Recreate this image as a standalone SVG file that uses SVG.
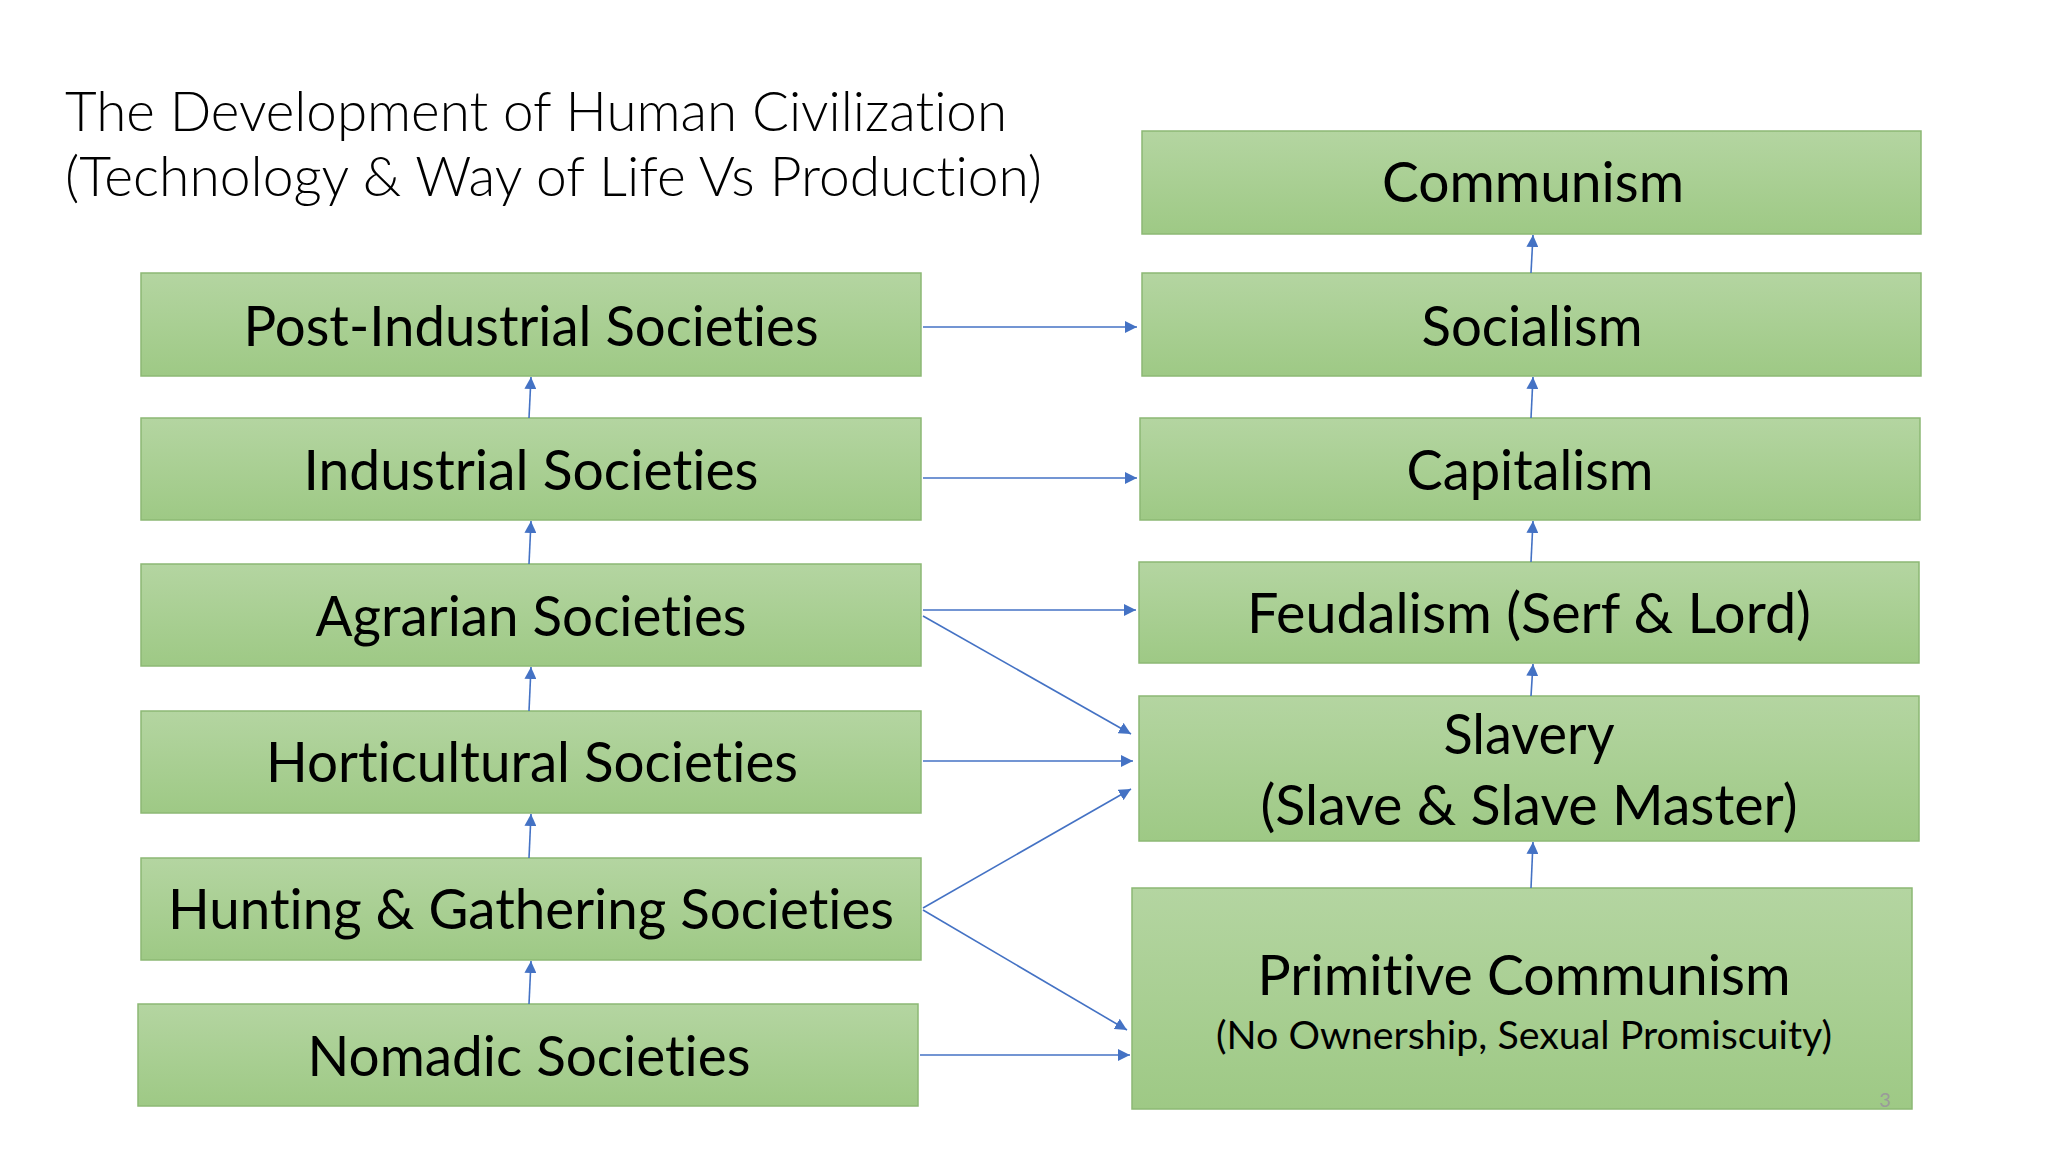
<svg xmlns="http://www.w3.org/2000/svg" width="2048" height="1152" viewBox="0 0 2048 1152">
  <defs>
    <linearGradient id="g" x1="0" y1="0" x2="0" y2="1">
      <stop offset="0" stop-color="#b4d5a1"/>
      <stop offset="1" stop-color="#9ec985"/>
    </linearGradient>
    <marker id="ah" markerUnits="userSpaceOnUse" markerWidth="14" markerHeight="12" refX="12" refY="6" orient="auto">
      <path d="M0,0 L12,6 L0,12 Z" fill="#4472c4"/>
    </marker>
  </defs>
  <style>
    text { font-variant-ligatures: none; font-feature-settings: "liga" 0, "clig" 0; }
    .box { fill: url(#g); stroke: #8cb874; stroke-width: 1.5; }
    .t { font-family: Lato, "Open Sans", "Liberation Sans", sans-serif; font-size: 56px; fill: #000; text-anchor: middle; }
    .s { font-family: Lato, "Open Sans", "Liberation Sans", sans-serif; font-size: 38px; fill: #000; text-anchor: middle; }
    .title { font-family: Lato, "Open Sans", "Liberation Sans", sans-serif; font-weight: 300; font-size: 56px; fill: #000; }
    .c { fill: none; stroke: #4472c4; stroke-width: 1.6; marker-end: url(#ah); }
  </style>
  <rect width="2048" height="1152" fill="#ffffff"/>

  <g id="title">
    <text class="title" x="65" y="131" textLength="942" lengthAdjust="spacingAndGlyphs">The Development of Human Civilization</text>
    <text class="title" x="65" y="196" textLength="977" lengthAdjust="spacingAndGlyphs">(Technology &amp; Way of Life Vs Production)</text>
  </g>

  <g id="post-industrial">
    <rect class="box" x="141" y="273" width="780" height="103"/>
    <text class="t" x="531" y="346" textLength="575" lengthAdjust="spacingAndGlyphs">Post-Industrial Societies</text>
  </g>
  <g id="industrial">
    <rect class="box" x="141" y="418" width="780" height="102"/>
    <text class="t" x="531" y="490" textLength="455" lengthAdjust="spacingAndGlyphs">Industrial Societies</text>
  </g>
  <g id="agrarian">
    <rect class="box" x="141" y="564" width="780" height="102"/>
    <text class="t" x="531" y="636" textLength="431" lengthAdjust="spacingAndGlyphs">Agrarian Societies</text>
  </g>
  <g id="horticultural">
    <rect class="box" x="141" y="711" width="780" height="102"/>
    <text class="t" x="532" y="782" textLength="532" lengthAdjust="spacingAndGlyphs">Horticultural Societies</text>
  </g>
  <g id="hunting">
    <rect class="box" x="141" y="858" width="780" height="102"/>
    <text class="t" x="531" y="929" textLength="726" lengthAdjust="spacingAndGlyphs">Hunting &amp; Gathering Societies</text>
  </g>
  <g id="nomadic">
    <rect class="box" x="138" y="1004" width="780" height="102"/>
    <text class="t" x="529" y="1076" textLength="443" lengthAdjust="spacingAndGlyphs">Nomadic Societies</text>
  </g>

  <g id="communism">
    <rect class="box" x="1142" y="131" width="779" height="103"/>
    <text class="t" x="1533" y="202" textLength="302" lengthAdjust="spacingAndGlyphs">Communism</text>
  </g>
  <g id="socialism">
    <rect class="box" x="1142" y="273" width="779" height="103"/>
    <text class="t" x="1532" y="346" textLength="221" lengthAdjust="spacingAndGlyphs">Socialism</text>
  </g>
  <g id="capitalism">
    <rect class="box" x="1140" y="418" width="780" height="102"/>
    <text class="t" x="1530" y="490" textLength="247" lengthAdjust="spacingAndGlyphs">Capitalism</text>
  </g>
  <g id="feudalism">
    <rect class="box" x="1139" y="562" width="780" height="101"/>
    <text class="t" x="1529" y="633" textLength="564" lengthAdjust="spacingAndGlyphs">Feudalism (Serf &amp; Lord)</text>
  </g>
  <g id="slavery">
    <rect class="box" x="1139" y="696" width="780" height="145"/>
    <text class="t" x="1529" y="754" textLength="171" lengthAdjust="spacingAndGlyphs">Slavery</text>
    <text class="t" x="1529" y="825" textLength="537" lengthAdjust="spacingAndGlyphs">(Slave &amp; Slave Master)</text>
  </g>
  <g id="primitive-communism">
    <rect class="box" x="1132" y="888" width="780" height="221"/>
    <text class="t" x="1524" y="995" textLength="533" lengthAdjust="spacingAndGlyphs">Primitive Communism</text>
    <text class="s" x="1524" y="1049" textLength="616" lengthAdjust="spacingAndGlyphs">(No Ownership, Sexual Promiscuity)</text>
    <text x="1885" y="1107" font-family="Lato, 'Liberation Sans', sans-serif" font-size="20" fill="#9a9a9a" text-anchor="middle">3</text>
  </g>

  <g id="connectors">
    <path class="c" d="M529,418 L531,377"/>
    <path class="c" d="M529,564 L531,521"/>
    <path class="c" d="M529,711 L531,667"/>
    <path class="c" d="M529,858 L531,814"/>
    <path class="c" d="M529,1004 L531,961"/>

    <path class="c" d="M1531,273 L1533,235"/>
    <path class="c" d="M1531,418 L1533,377"/>
    <path class="c" d="M1531,562 L1533,521"/>
    <path class="c" d="M1531,696 L1533,664"/>
    <path class="c" d="M1531,888 L1533,842"/>

    <path class="c" d="M923,327 L1137,327"/>
    <path class="c" d="M923,478 L1137,478"/>
    <path class="c" d="M923,610 L1136,610"/>
    <path class="c" d="M923,616 L1131,734"/>
    <path class="c" d="M923,761 L1133,761"/>
    <path class="c" d="M923,908 L1131,789"/>
    <path class="c" d="M923,910 L1127,1030"/>
    <path class="c" d="M920,1055 L1130,1055"/>
  </g>
</svg>
